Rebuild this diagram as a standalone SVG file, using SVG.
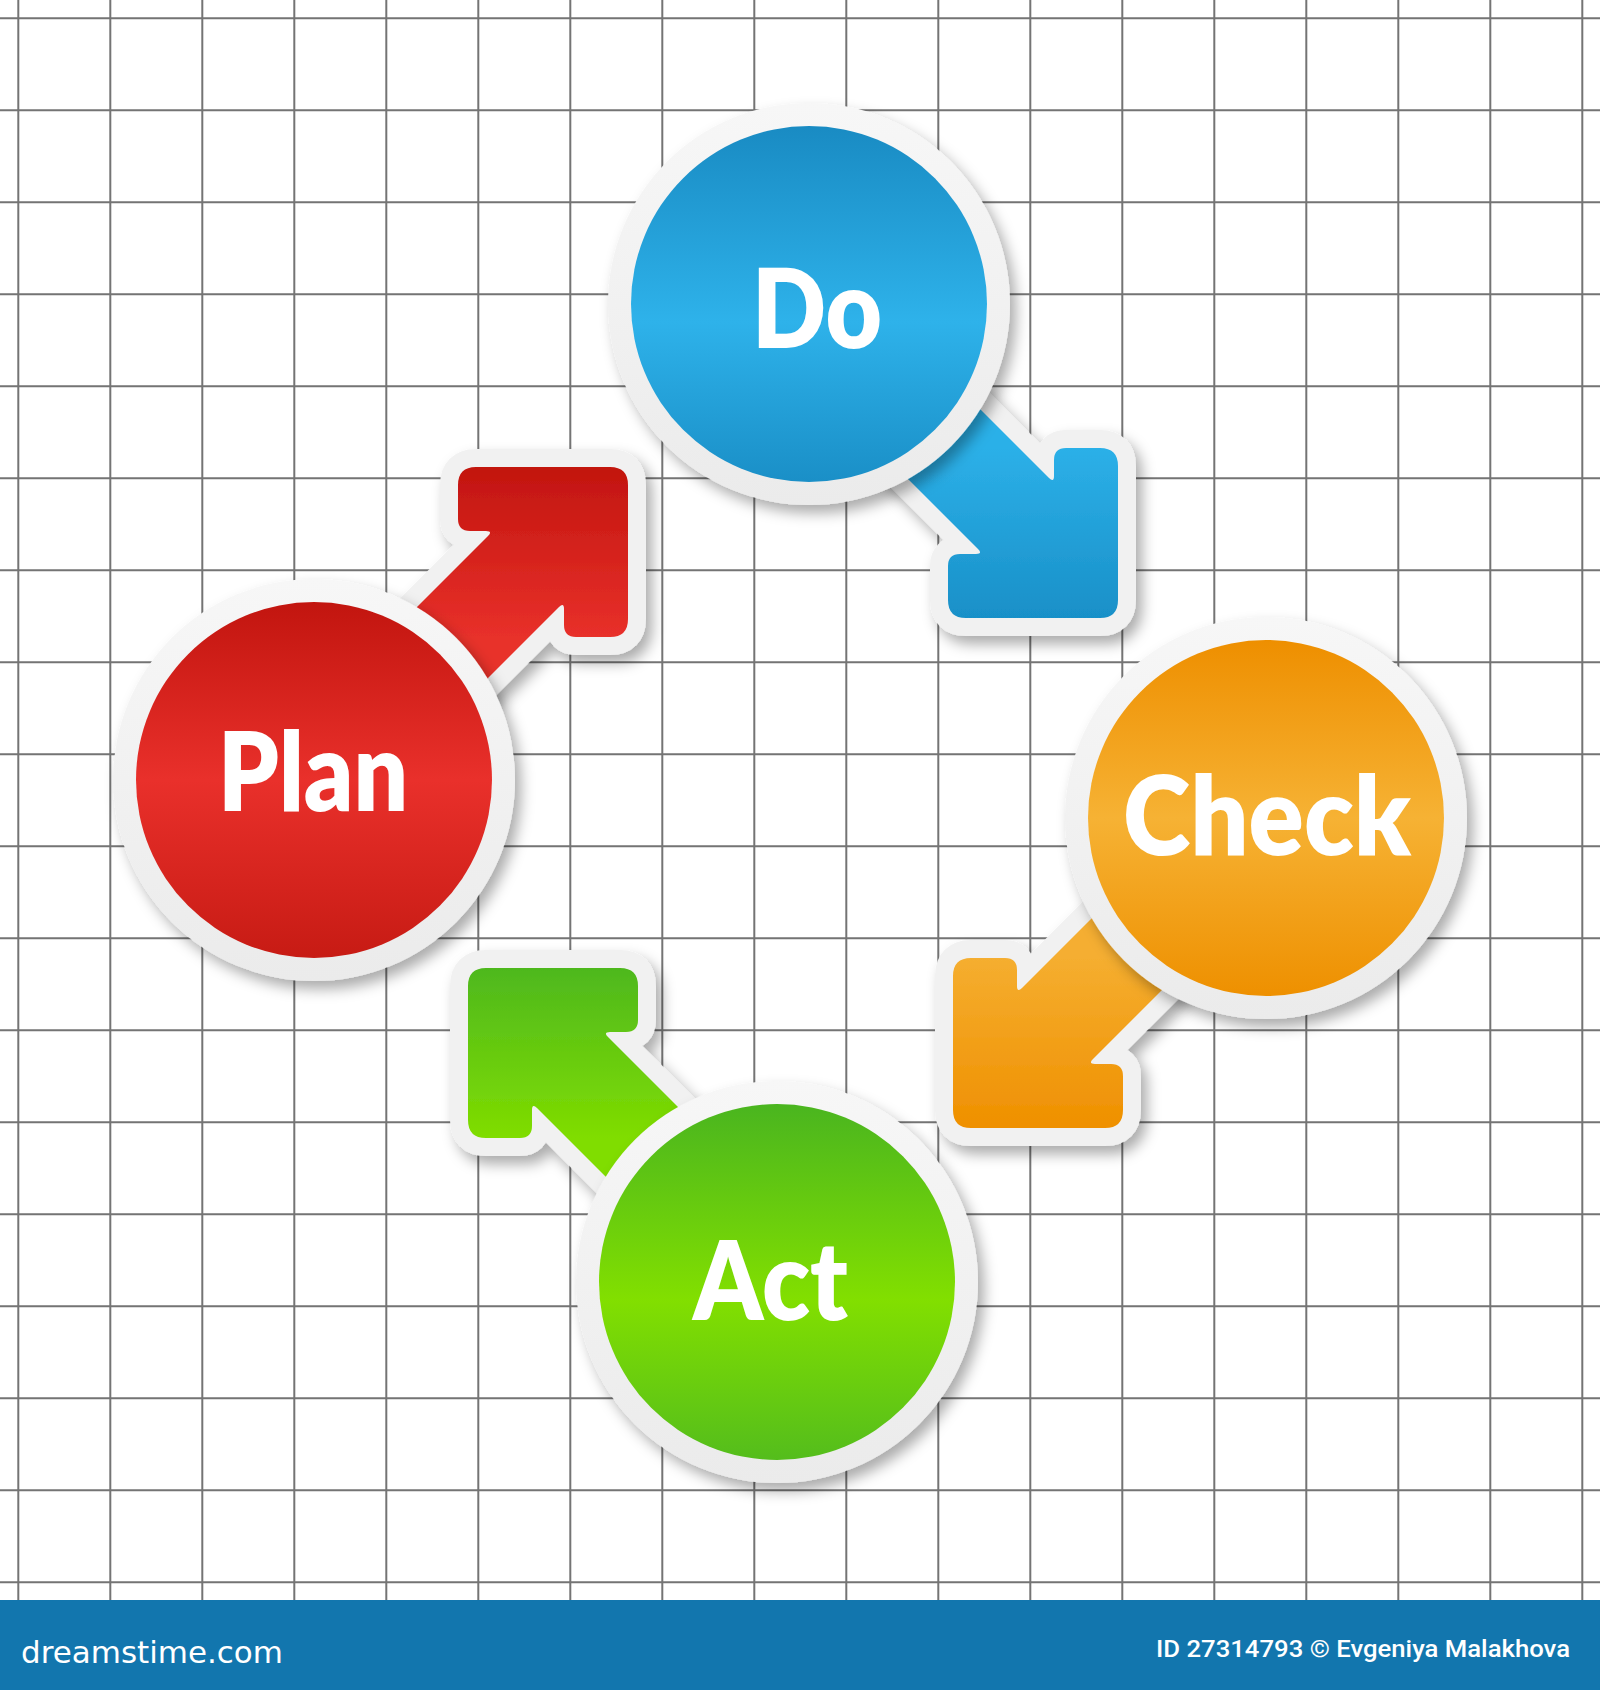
<svg xmlns="http://www.w3.org/2000/svg" width="1600" height="1690" viewBox="0 0 1600 1690">
<defs>
<style>
.grid{stroke:#747474;stroke-width:2;fill:none}
.border{fill:#f1f1f1;stroke:#f1f1f1;stroke-width:36;stroke-linejoin:round}
.ring{fill:url(#gRing)}
.label{font-family:Lato,"Open Sans","Liberation Sans",sans-serif;font-weight:800;font-size:110px;fill:#ffffff}
</style>
<filter id="sh" x="-20%" y="-20%" width="150%" height="150%">
<feDropShadow dx="6" dy="8" stdDeviation="7" flood-color="#000000" flood-opacity="0.33"/>
</filter>
<path id="arrow" d="M -152 0 L -18 0 Q 0 0 0 18 L 0 152 Q 0 170 -18 170 L -52 170 Q -64 170 -64 158 L -64 142 Q -64 135 -69 140 L -364 435 L -435 364 L -140 69 Q -135 64 -142 64 L -158 64 Q -170 64 -170 52 L -170 18 Q -170 0 -152 0 Z"/>
<linearGradient id="gRing" x1="0" y1="0" x2="0" y2="1">
<stop offset="0" stop-color="#f7f7f7"/><stop offset="1" stop-color="#ebebeb"/>
</linearGradient>
<linearGradient id="gDo" x1="0" y1="0" x2="0" y2="1">
<stop offset="0" stop-color="#198bc3"/><stop offset="0.55" stop-color="#2eb2ea"/><stop offset="1" stop-color="#1a8fc7"/>
</linearGradient>
<linearGradient id="gPlan" x1="0" y1="0" x2="0" y2="1">
<stop offset="0" stop-color="#c2150f"/><stop offset="0.5" stop-color="#e9302b"/><stop offset="1" stop-color="#c71b14"/>
</linearGradient>
<linearGradient id="gCheck" x1="0" y1="0" x2="0" y2="1">
<stop offset="0" stop-color="#ee8f00"/><stop offset="0.5" stop-color="#f6b234"/><stop offset="1" stop-color="#ee9000"/>
</linearGradient>
<linearGradient id="gAct" x1="0" y1="0" x2="0" y2="1">
<stop offset="0" stop-color="#4ab51f"/><stop offset="0.55" stop-color="#82df00"/><stop offset="1" stop-color="#54bd1c"/>
</linearGradient>
<linearGradient id="aRed" gradientUnits="userSpaceOnUse" x1="0" y1="0" x2="0" y2="170">
<stop offset="0" stop-color="#c2150f"/><stop offset="1" stop-color="#e8302a"/>
</linearGradient>
<linearGradient id="aBlue" gradientUnits="userSpaceOnUse" x1="-170" y1="0" x2="0" y2="0">
<stop offset="0" stop-color="#2cb0e8"/><stop offset="1" stop-color="#1990c8"/>
</linearGradient>
<linearGradient id="aOrange" gradientUnits="userSpaceOnUse" x1="0" y1="170" x2="0" y2="0">
<stop offset="0" stop-color="#f5ae30"/><stop offset="1" stop-color="#ef9000"/>
</linearGradient>
<linearGradient id="aGreen" gradientUnits="userSpaceOnUse" x1="0" y1="0" x2="-170" y2="0">
<stop offset="0" stop-color="#4eb81e"/><stop offset="1" stop-color="#80dd00"/>
</linearGradient>
</defs>
<rect x="0" y="0" width="1600" height="1690" fill="#ffffff"/>
<path class="grid" d="M18.3 0V1600M110.3 0V1600M202.3 0V1600M294.3 0V1600M386.3 0V1600M478.3 0V1600M570.3 0V1600M662.3 0V1600M754.3 0V1600M846.3 0V1600M938.3 0V1600M1030.3 0V1600M1122.3 0V1600M1214.3 0V1600M1306.3 0V1600M1398.3 0V1600M1490.3 0V1600M1582.3 0V1600M0 18.3H1600M0 110.3H1600M0 202.3H1600M0 294.3H1600M0 386.3H1600M0 478.3H1600M0 570.3H1600M0 662.3H1600M0 754.3H1600M0 846.3H1600M0 938.3H1600M0 1030.3H1600M0 1122.3H1600M0 1214.3H1600M0 1306.3H1600M0 1398.3H1600M0 1490.3H1600M0 1582.3H1600"/>
<g id="connectors">
<g id="arrow-plan-do" filter="url(#sh)"><g transform="translate(628 467)"><use href="#arrow" class="border"/><use href="#arrow" fill="url(#aRed)"/></g></g>
<g id="arrow-do-check" filter="url(#sh)"><g transform="translate(1118 618) rotate(90)"><use href="#arrow" class="border"/><use href="#arrow" fill="url(#aBlue)"/></g></g>
<g id="arrow-check-act" filter="url(#sh)"><g transform="translate(953 1128) rotate(180)"><use href="#arrow" class="border"/><use href="#arrow" fill="url(#aOrange)"/></g></g>
<g id="arrow-act-plan" filter="url(#sh)"><g transform="translate(468 968) rotate(270)"><use href="#arrow" class="border"/><use href="#arrow" fill="url(#aGreen)"/></g></g>
</g>
<g id="do">
<circle class="ring" cx="809" cy="304" r="201" filter="url(#sh)"/>
<circle cx="809" cy="304" r="178" fill="url(#gDo)"/>
<text class="label" x="752" y="348" textLength="130" lengthAdjust="spacingAndGlyphs">Do</text>
</g>
<g id="plan">
<circle class="ring" cx="314" cy="780" r="201" filter="url(#sh)"/>
<circle cx="314" cy="780" r="178" fill="url(#gPlan)"/>
<text class="label" x="218" y="811" textLength="190" lengthAdjust="spacingAndGlyphs">Plan</text>
</g>
<g id="check">
<circle class="ring" cx="1266" cy="818" r="201" filter="url(#sh)"/>
<circle cx="1266" cy="818" r="178" fill="url(#gCheck)"/>
<text class="label" x="1123" y="855" textLength="288" lengthAdjust="spacingAndGlyphs">Check</text>
</g>
<g id="act">
<circle class="ring" cx="777" cy="1282" r="201" filter="url(#sh)"/>
<circle cx="777" cy="1282" r="178" fill="url(#gAct)"/>
<text class="label" x="693" y="1320" textLength="155" lengthAdjust="spacingAndGlyphs">Act</text>
</g>
<g id="footer">
<rect x="0" y="1600" width="1600" height="90" fill="#1276ae"/>
<text x="21" y="1663" font-family="'DejaVu Sans',sans-serif" font-size="30" fill="#ffffff" textLength="262" lengthAdjust="spacingAndGlyphs">dreamstime.com</text>
<text x="1570" y="1657" text-anchor="end" font-family="Roboto,'Liberation Sans',sans-serif" font-weight="500" font-size="24" fill="#ffffff" textLength="414" lengthAdjust="spacingAndGlyphs">ID 27314793 © Evgeniya Malakhova</text>
</g>
</svg>
